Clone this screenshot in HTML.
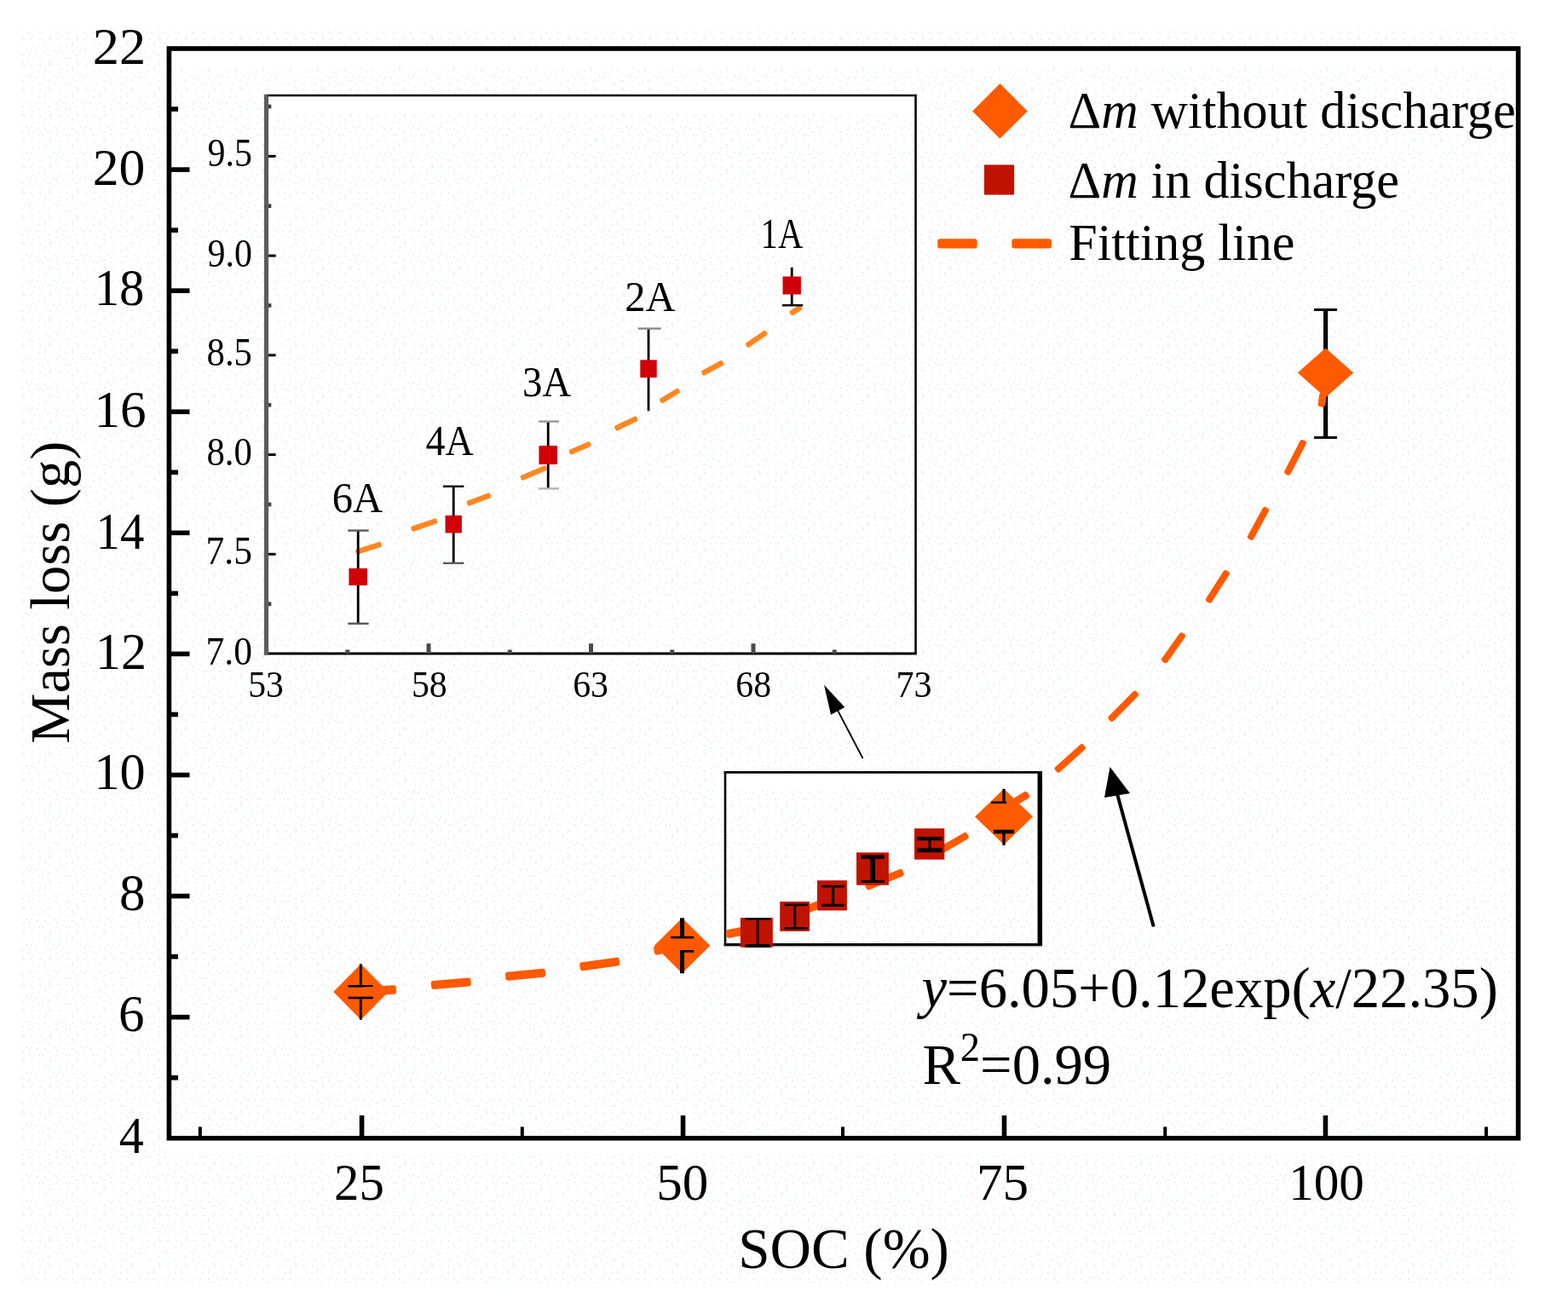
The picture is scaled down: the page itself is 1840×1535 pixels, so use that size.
<!DOCTYPE html>
<html lang="en"><head><meta charset="utf-8"><title>Mass loss vs SOC</title>
<style>html,body{margin:0;padding:0;background:#fff;}body{width:1840px;height:1535px;overflow:hidden;}svg{display:block;}text{font-family:"Liberation Serif","Times New Roman",Times,serif;fill:#000;white-space:pre;}</style>
</head><body>
<svg width="1840" height="1535" viewBox="0 0 1840 1535">
<defs><pattern id="dz" width="32" height="30" patternUnits="userSpaceOnUse"><rect x="2" y="1" width="2" height="2" fill="#f8eeee"/><rect x="8" y="5" width="2" height="2" fill="#e9fdfd"/><rect x="10" y="0" width="2" height="2" fill="#f8eeee"/><rect x="20" y="0" width="2" height="2" fill="#f8eeee"/><rect x="23" y="4" width="2" height="2" fill="#e9fdfd"/><rect x="26" y="4" width="2" height="2" fill="#f8eeee"/><rect x="1" y="7" width="2" height="2" fill="#f8eeee"/><rect x="5" y="10" width="2" height="2" fill="#e9fdfd"/><rect x="13" y="7" width="2" height="2" fill="#f8eeee"/><rect x="17" y="7" width="2" height="2" fill="#f8eeee"/><rect x="25" y="10" width="2" height="2" fill="#e9fdfd"/><rect x="26" y="13" width="2" height="2" fill="#f8eeee"/><rect x="4" y="15" width="2" height="2" fill="#f8eeee"/><rect x="6" y="20" width="2" height="2" fill="#e9fdfd"/><rect x="14" y="15" width="2" height="2" fill="#f8eeee"/><rect x="20" y="19" width="2" height="2" fill="#f8eeee"/><rect x="24" y="15" width="2" height="2" fill="#e9fdfd"/><rect x="27" y="15" width="2" height="2" fill="#f8eeee"/><rect x="4" y="28" width="2" height="2" fill="#f8eeee"/><rect x="6" y="24" width="2" height="2" fill="#e9fdfd"/><rect x="13" y="23" width="2" height="2" fill="#f8eeee"/><rect x="20" y="22" width="2" height="2" fill="#f8eeee"/><rect x="25" y="24" width="2" height="2" fill="#e9fdfd"/><rect x="30" y="28" width="2" height="2" fill="#f8eeee"/></pattern></defs>
<rect x="0" y="0" width="1840" height="1535" fill="#ffffff"/>
<rect x="24" y="35" width="1755" height="1473" fill="url(#dz)"/>
<g id="bands" fill="#ffffff"><rect x="198" y="57" width="1583" height="20"/><rect x="196" y="1336" width="1588" height="18.5"/><rect x="313" y="112" width="761" height="20"/><rect x="851" y="906" width="369" height="20"/></g>
<g id="main-axes" stroke="#000" fill="none">
<rect x="198.4" y="57" width="1583.2" height="1278.75" stroke-width="5.6"/>
<line x1="198.4" y1="1264.71" x2="209" y2="1264.71" stroke-width="5.6"/>
<line x1="198.4" y1="1193.67" x2="222.5" y2="1193.67" stroke-width="5.6"/>
<line x1="198.4" y1="1122.62" x2="209" y2="1122.62" stroke-width="5.6"/>
<line x1="198.4" y1="1051.58" x2="222.5" y2="1051.58" stroke-width="5.6"/>
<line x1="198.4" y1="980.54" x2="209" y2="980.54" stroke-width="5.6"/>
<line x1="198.4" y1="909.5" x2="222.5" y2="909.5" stroke-width="5.6"/>
<line x1="198.4" y1="838.46" x2="209" y2="838.46" stroke-width="5.6"/>
<line x1="198.4" y1="767.42" x2="222.5" y2="767.42" stroke-width="5.6"/>
<line x1="198.4" y1="696.38" x2="209" y2="696.38" stroke-width="5.6"/>
<line x1="198.4" y1="625.33" x2="222.5" y2="625.33" stroke-width="5.6"/>
<line x1="198.4" y1="554.29" x2="209" y2="554.29" stroke-width="5.6"/>
<line x1="198.4" y1="483.25" x2="222.5" y2="483.25" stroke-width="5.6"/>
<line x1="198.4" y1="412.21" x2="209" y2="412.21" stroke-width="5.6"/>
<line x1="198.4" y1="341.17" x2="222.5" y2="341.17" stroke-width="5.6"/>
<line x1="198.4" y1="270.12" x2="209" y2="270.12" stroke-width="5.6"/>
<line x1="198.4" y1="199.08" x2="222.5" y2="199.08" stroke-width="5.6"/>
<line x1="198.4" y1="128.04" x2="209" y2="128.04" stroke-width="5.6"/>
<line x1="234.8" y1="1335.75" x2="234.8" y2="1322.4" stroke-width="4"/>
<line x1="424.57" y1="1335.75" x2="424.57" y2="1309" stroke-width="5.6"/>
<line x1="612.8" y1="1335.75" x2="612.8" y2="1322.4" stroke-width="4"/>
<line x1="801.52" y1="1335.75" x2="801.52" y2="1309" stroke-width="5.6"/>
<line x1="989" y1="1335.75" x2="989" y2="1322.4" stroke-width="4"/>
<line x1="1178.48" y1="1335.75" x2="1178.48" y2="1309" stroke-width="5.6"/>
<line x1="1367.2" y1="1335.75" x2="1367.2" y2="1322.4" stroke-width="4"/>
<line x1="1555.43" y1="1335.75" x2="1555.43" y2="1309" stroke-width="5.6"/>
<line x1="1744" y1="1335.75" x2="1744" y2="1322.4" stroke-width="4"/>
</g>
<g id="zoombox" stroke="#000" fill="none">
<path d="M849.7 906.4H1223" stroke-width="2.9"/><path d="M851 905V1110" stroke-width="2.6"/>
<path d="M1220.3 905V1110.6" stroke-width="5.5"/><path d="M849.7 1108.5H1223" stroke-width="3"/>
<path d="M849.7 1110.6H1223" stroke="#b8b0b0" stroke-width="1.2"/>
</g>
<g id="main-diamonds" fill="none">
<polygon points="423.5,1131.2 455.8,1164 423.5,1196.8 391.2,1164" fill="#FF5A00"/>
<line x1="423.3" y1="1131.2" x2="423.3" y2="1157.3" stroke="#000" stroke-width="2.8"/>
<line x1="423.3" y1="1171" x2="423.3" y2="1196.8" stroke="#000" stroke-width="2.8"/>
<line x1="408.5" y1="1157.3" x2="437.8" y2="1157.3" stroke="#000" stroke-width="2.6"/>
<line x1="408.5" y1="1171" x2="437.8" y2="1171" stroke="#000" stroke-width="2.6"/>
<polygon points="800.5,1077.2 833.3,1109.7 800.5,1142.2 767.7,1109.7" fill="#FF5A00"/>
<line x1="800.5" y1="1077.3" x2="800.5" y2="1100.1" stroke="#000" stroke-width="5"/>
<line x1="800.5" y1="1116.4" x2="800.5" y2="1142.2" stroke="#000" stroke-width="5"/>
<line x1="787" y1="1100.1" x2="814" y2="1100.1" stroke="#000" stroke-width="2.6"/>
<polygon points="1178,925.7 1212,958.5 1178,991.3 1144,958.5" fill="#FF5A00"/>
<line x1="1178" y1="925.8" x2="1178" y2="941.7" stroke="#000" stroke-width="3.3"/>
<line x1="1178" y1="976" x2="1178" y2="992" stroke="#000" stroke-width="3.3"/>
<line x1="1166" y1="976" x2="1190" y2="976" stroke="#000" stroke-width="4.6"/>
<line x1="1555.6" y1="363.5" x2="1555.6" y2="513.5" stroke="#000" stroke-width="5.2"/>
<path d="M1542 363.5H1569M1542 513.5H1569" stroke="#000" stroke-width="3"/>
<polygon points="1555.5,408.4 1588.2,437.4 1555.5,466.4 1522.8,437.4" fill="#FF5A00"/>
</g>
<g id="main-fit">
<rect x="423.46" y="1157.35" width="41.59" height="10.6" rx="3" fill="#FF5A00" transform="rotate(-3.72 444.25 1162.65)"/>
<rect x="505.92" y="1149.25" width="46.76" height="10" rx="3" fill="#FF5A00" transform="rotate(-4.78 529.3 1154.25)"/>
<rect x="593.09" y="1138.7" width="47.03" height="10" rx="3" fill="#FF5A00" transform="rotate(-5.61 616.6 1143.7)"/>
<rect x="680.28" y="1126.4" width="46.94" height="10" rx="3" fill="#FF5A00" transform="rotate(-7.84 703.75 1131.4)"/>
<rect x="767.07" y="1106.3" width="47.36" height="10.4" rx="3" fill="#FF5A00" transform="rotate(-10.95 790.75 1111.5)"/>
<rect x="851.88" y="1088.25" width="33.44" height="10" rx="3" fill="#FF5A00" transform="rotate(-11.21 868.6 1093.25)"/>
<rect x="943.84" y="1057.25" width="32.31" height="9.5" rx="3" fill="#FF5A00" transform="rotate(-21.8 960 1062)"/>
<rect x="1014.26" y="1027.6" width="47.28" height="9" rx="3" fill="#FF5A00" transform="rotate(-22.12 1037.9 1032.1)"/>
<rect x="1095.04" y="986.25" width="43.51" height="8.6" rx="3" fill="#FF5A00" transform="rotate(-30.22 1116.8 990.55)"/>
<rect x="1169.03" y="937.7" width="40.75" height="9" rx="3" fill="#FF5A00" transform="rotate(-31.35 1189.4 942.2)"/>
<rect x="1233.48" y="885.85" width="44.55" height="8" rx="3" fill="#FF5A00" transform="rotate(-41.9 1255.75 889.85)"/>
<rect x="1295.21" y="824.8" width="46.08" height="8" rx="3" fill="#FF5A00" transform="rotate(-45.3 1318.25 828.8)"/>
<rect x="1356.47" y="756.3" width="41.05" height="8" rx="3" fill="#FF5A00" transform="rotate(-54.8 1377 760.3)"/>
<rect x="1407.17" y="684.4" width="43.36" height="8" rx="3" fill="#FF5A00" transform="rotate(-57.4 1428.85 688.4)"/>
<rect x="1455.27" y="610.4" width="42.36" height="8" rx="3" fill="#FF5A00" transform="rotate(-61.4 1476.45 614.4)"/>
<rect x="1497.44" y="532.9" width="45.11" height="8" rx="3" fill="#FF5A00" transform="rotate(-62.7 1520 536.9)"/>
<rect x="1543.29" y="464.95" width="16.62" height="8.6" rx="3" fill="#FF5A00" transform="rotate(-83.09 1551.6 469.25)"/>
<path d="M798 1116.4H814M1163 941.7H1181" stroke="#000" stroke-width="2.6" fill="none"/>
</g>
<g id="main-squares" fill="none">
<rect x="868.9" y="1077" width="37.9" height="34.7" fill="#C01200"/>
<line x1="889.1" y1="1078.3" x2="889.1" y2="1110" stroke="#000" stroke-width="2.8"/>
<line x1="874.3" y1="1078.3" x2="903.9" y2="1078.3" stroke="#000" stroke-width="2.6"/>
<line x1="874.3" y1="1110" x2="903.9" y2="1110" stroke="#000" stroke-width="4"/>
<rect x="915.2" y="1058.1" width="34.8" height="34.8" fill="#C01200"/>
<line x1="932.8" y1="1061.9" x2="932.8" y2="1089.3" stroke="#000" stroke-width="2.8"/>
<line x1="920.4" y1="1061.9" x2="947.8" y2="1061.9" stroke="#000" stroke-width="2.6"/>
<line x1="920.4" y1="1089.3" x2="947.8" y2="1089.3" stroke="#000" stroke-width="2.6"/>
<rect x="959" y="1033.2" width="34.9" height="35.3" fill="#C01200"/>
<line x1="977.6" y1="1040.2" x2="977.6" y2="1062.2" stroke="#000" stroke-width="3"/>
<line x1="964.2" y1="1040.2" x2="991.1" y2="1040.2" stroke="#000" stroke-width="2.6"/>
<line x1="964.2" y1="1062.2" x2="991.1" y2="1062.2" stroke="#000" stroke-width="3"/>
<rect x="1005" y="1000.4" width="37.9" height="38.3" fill="#C01200"/>
<line x1="1024.1" y1="1005.7" x2="1024.1" y2="1034.5" stroke="#000" stroke-width="5.6"/>
<line x1="1010.4" y1="1005.7" x2="1037.7" y2="1005.7" stroke="#000" stroke-width="4.6"/>
<line x1="1010.4" y1="1034.5" x2="1037.7" y2="1034.5" stroke="#000" stroke-width="3"/>
<rect x="1073" y="972.2" width="35.3" height="36.5" fill="#C01200"/>
<line x1="1090.9" y1="984.1" x2="1090.9" y2="997.8" stroke="#000" stroke-width="3"/>
<line x1="1076" y1="984.1" x2="1105.7" y2="984.1" stroke="#000" stroke-width="4.4"/>
<line x1="1076" y1="997.8" x2="1105.7" y2="997.8" stroke="#000" stroke-width="5"/>
</g>
<g id="arrows" fill="#000" stroke="#000">
<line x1="1012.5" y1="890" x2="978" y2="824" stroke-width="1.8"/>
<polygon points="967,803.75 975,838.75 991.25,830" stroke="none"/>
<line x1="1353.75" y1="1087.5" x2="1310" y2="928" stroke-width="4"/>
<polygon points="1302.5,900 1296,936 1326,931" stroke="none"/>
</g>
<g id="inset-fit">
<rect x="416.72" y="639.95" width="31.75" height="6.4" rx="2" fill="#FF8722" transform="rotate(-17.6 432.6 643.15)"/>
<rect x="481.87" y="612.85" width="31.87" height="6.4" rx="2" fill="#FF8722" transform="rotate(-19.2 497.8 616.05)"/>
<rect x="547.18" y="582.9" width="29.64" height="6.4" rx="2" fill="#FF8722" transform="rotate(-20.6 562 586.1)"/>
<rect x="609.94" y="551.75" width="32.71" height="6.4" rx="2" fill="#FF8722" transform="rotate(-23.1 626.3 554.95)"/>
<rect x="667.18" y="522.7" width="26.94" height="6.4" rx="2" fill="#FF8722" transform="rotate(-23 680.65 525.9)"/>
<rect x="720.37" y="493.7" width="28.76" height="6.4" rx="2" fill="#FF8722" transform="rotate(-25.6 734.75 496.9)"/>
<rect x="772.91" y="461.3" width="25.99" height="6.4" rx="2" fill="#FF8722" transform="rotate(-30.8 785.9 464.5)"/>
<rect x="822.01" y="428.65" width="28.17" height="6.4" rx="2" fill="#FF8722" transform="rotate(-28.6 836.1 431.85)"/>
<rect x="873.25" y="394.65" width="28.8" height="6.4" rx="2" fill="#FF8722" transform="rotate(-34.8 887.65 397.85)"/>
<rect x="926.22" y="361" width="15.45" height="6.4" rx="2" fill="#FF8722" transform="rotate(-31.9 933.95 364.2)"/>
</g>
<g id="inset-axes" stroke="#000" fill="none">
<path d="M312.5 112H1074.5V767.1" stroke-width="2.6"/>
<path d="M309.9 767.1H1075.8" stroke-width="3"/>
<line x1="312.5" y1="708.73" x2="318.3" y2="708.73" stroke-width="4.6" stroke="#3c3c3c"/>
<line x1="312.5" y1="650.35" x2="323.6" y2="650.35" stroke-width="3"/>
<line x1="312.5" y1="591.98" x2="318.3" y2="591.98" stroke-width="4.6" stroke="#3c3c3c"/>
<line x1="312.5" y1="533.6" x2="323.6" y2="533.6" stroke-width="3"/>
<line x1="312.5" y1="475.23" x2="318.3" y2="475.23" stroke-width="4.6" stroke="#3c3c3c"/>
<line x1="312.5" y1="416.85" x2="323.6" y2="416.85" stroke-width="3"/>
<line x1="312.5" y1="358.48" x2="318.3" y2="358.48" stroke-width="4.6" stroke="#3c3c3c"/>
<line x1="312.5" y1="300.1" x2="323.6" y2="300.1" stroke-width="3"/>
<line x1="312.5" y1="241.73" x2="318.3" y2="241.73" stroke-width="4.6" stroke="#3c3c3c"/>
<line x1="312.5" y1="183.35" x2="323.6" y2="183.35" stroke-width="3"/>
<line x1="312.5" y1="124.98" x2="318.3" y2="124.98" stroke-width="4.6" stroke="#3c3c3c"/>
<line x1="407.75" y1="767.1" x2="407.75" y2="762.5" stroke-width="5" stroke="#4a4a4a"/>
<line x1="503" y1="767.1" x2="503" y2="755.2" stroke-width="5" stroke="#4a4a4a"/>
<line x1="598.25" y1="767.1" x2="598.25" y2="762.5" stroke-width="5" stroke="#4a4a4a"/>
<line x1="693.5" y1="767.1" x2="693.5" y2="755.2" stroke-width="5" stroke="#4a4a4a"/>
<line x1="788.75" y1="767.1" x2="788.75" y2="762.5" stroke-width="5" stroke="#4a4a4a"/>
<line x1="884" y1="767.1" x2="884" y2="755.2" stroke-width="5" stroke="#4a4a4a"/>
<line x1="979.25" y1="767.1" x2="979.25" y2="762.5" stroke-width="5" stroke="#4a4a4a"/>
<path d="M312.5 110.7V768.6" stroke="#5c5c5c" stroke-width="5.2"/>
</g>
<g id="inset-data" fill="none">
<line x1="420.2" y1="622.6" x2="420.2" y2="731.8" stroke="#000" stroke-width="2.8"/>
<line x1="408.2" y1="622.6" x2="432.7" y2="622.6" stroke="#5a5a5a" stroke-width="2.4"/>
<line x1="408.2" y1="731.8" x2="432.7" y2="731.8" stroke="#5a5a5a" stroke-width="2.4"/>
<rect x="409.4" y="667" width="21.6" height="20" fill="#D10008"/>
<line x1="532.2" y1="570.8" x2="532.2" y2="660.9" stroke="#000" stroke-width="2.8"/>
<line x1="520" y1="570.8" x2="544.3" y2="570.8" stroke="#000" stroke-width="2.4"/>
<line x1="520" y1="660.9" x2="544.3" y2="660.9" stroke="#5a5a5a" stroke-width="2.4"/>
<rect x="522.5" y="604.9" width="19.4" height="20.6" fill="#D10008"/>
<line x1="643.2" y1="494.6" x2="643.2" y2="573.4" stroke="#000" stroke-width="2.8"/>
<line x1="631.8" y1="494.6" x2="656" y2="494.6" stroke="#9a9a9a" stroke-width="2.4"/>
<line x1="631.8" y1="573.4" x2="656" y2="573.4" stroke="#b4b4b4" stroke-width="2.4"/>
<rect x="632.4" y="523.1" width="21.6" height="21.8" fill="#D10008"/>
<line x1="761" y1="385.6" x2="761" y2="482.3" stroke="#000" stroke-width="2.8"/>
<line x1="748.8" y1="385.6" x2="775.6" y2="385.6" stroke="#8a8a8a" stroke-width="2.4"/>
<rect x="751.3" y="422.4" width="19.4" height="20.8" fill="#D10008"/>
<line x1="929.2" y1="313.8" x2="929.2" y2="358.3" stroke="#000" stroke-width="2.8"/>
<line x1="917.8" y1="358.3" x2="942.2" y2="358.3" stroke="#000" stroke-width="2.4"/>
<rect x="918.5" y="324.5" width="21.4" height="21" fill="#D10008"/>
</g>
<g id="legend">
<polygon points="1173.4,98 1205.7,130.4 1173.4,162.8 1141.1,130.4" fill="#FF5A00"/>
<rect x="1154.9" y="193.4" width="35.2" height="35.2" fill="#C01200"/>
<rect x="1100.2" y="280.2" width="46.4" height="11.2" rx="3" fill="#FF5A00"/>
<rect x="1187.3" y="280.2" width="46.6" height="11.2" rx="3" fill="#FF5A00"/>
</g>
<g id="texts">
<text id="y4" x="139.66" y="1353.05" font-size="61" textLength="29.05" lengthAdjust="spacingAndGlyphs">4</text>
<text id="y6" x="139" y="1210.47" font-size="61" textLength="30.5" lengthAdjust="spacingAndGlyphs">6</text>
<text id="y8" x="140" y="1067.88" font-size="61" textLength="30.5" lengthAdjust="spacingAndGlyphs">8</text>
<text id="y10" x="110.44" y="926.3" font-size="61" textLength="60.17" lengthAdjust="spacingAndGlyphs">10</text>
<text id="y12" x="112.09" y="785" font-size="61" textLength="59.92" lengthAdjust="spacingAndGlyphs">12</text>
<text id="y14" x="112.58" y="643.6" font-size="61" textLength="56.73" lengthAdjust="spacingAndGlyphs">14</text>
<text id="y16" x="110.49" y="500.6" font-size="61" textLength="61.18" lengthAdjust="spacingAndGlyphs">16</text>
<text id="y18" x="110.63" y="357.75" font-size="61" textLength="58.78" lengthAdjust="spacingAndGlyphs">18</text>
<text id="y20" x="108.68" y="216.5" font-size="61" textLength="61.6" lengthAdjust="spacingAndGlyphs">20</text>
<text id="y22" x="108.87" y="75" font-size="61" textLength="62.28" lengthAdjust="spacingAndGlyphs">22</text>
<text id="x25" x="392.11" y="1407.7" font-size="61" textLength="58.82" lengthAdjust="spacingAndGlyphs">25</text>
<text id="x50" x="770.25" y="1407.7" font-size="61" textLength="61" lengthAdjust="spacingAndGlyphs">50</text>
<text id="x75" x="1145.99" y="1407.7" font-size="61" textLength="61.08" lengthAdjust="spacingAndGlyphs">75</text>
<text id="x100" x="1512.15" y="1407.7" font-size="61" textLength="88.8" lengthAdjust="spacingAndGlyphs">100</text>
<text id="xlabel" x="866.24" y="1488" font-size="67" textLength="247.55" lengthAdjust="spacingAndGlyphs">SOC (%)</text>
<text id="ylabel" transform="translate(80.8,872.72) rotate(-90)" font-size="66" textLength="355.07" lengthAdjust="spacingAndGlyphs">Mass loss (g)</text>
<text id="leg1" x="1253.5" y="149.7" font-size="61.5" textLength="525.1" lengthAdjust="spacingAndGlyphs">Δ<tspan font-style="italic">m</tspan> without discharge</text>
<text id="leg2" x="1253.48" y="231.5" font-size="61.5" textLength="388.45" lengthAdjust="spacingAndGlyphs">Δ<tspan font-style="italic">m</tspan> in discharge</text>
<text id="leg3" x="1254.29" y="305.2" font-size="61.5" textLength="265.05" lengthAdjust="spacingAndGlyphs">Fitting line</text>
<text id="ann1" x="1081.53" y="1182.1" font-size="68.5" textLength="676.31" lengthAdjust="spacingAndGlyphs"><tspan font-style="italic">y</tspan>=6.05+0.12exp(<tspan font-style="italic">x</tspan>/22.35)</text>
<text id="ann2" x="1082.43" y="1271.5" font-size="68" textLength="221.75" lengthAdjust="spacingAndGlyphs">R<tspan font-size="47.5" dy="-26.5">2</tspan><tspan dy="26.5">=0.99</tspan></text>
<text id="iy70" x="241.56" y="779.7" font-size="46" textLength="54.39" lengthAdjust="spacingAndGlyphs">7.0</text>
<text id="iy75" x="241.54" y="662.45" font-size="46" textLength="54.43" lengthAdjust="spacingAndGlyphs">7.5</text>
<text id="iy80" x="242.51" y="546.2" font-size="46" textLength="53.42" lengthAdjust="spacingAndGlyphs">8.0</text>
<text id="iy85" x="242.55" y="428.95" font-size="46" textLength="53.36" lengthAdjust="spacingAndGlyphs">8.5</text>
<text id="iy90" x="243.55" y="312.7" font-size="46" textLength="52.35" lengthAdjust="spacingAndGlyphs">9.0</text>
<text id="iy95" x="243.55" y="195.45" font-size="46" textLength="52.35" lengthAdjust="spacingAndGlyphs">9.5</text>
<text id="ix53" x="291.22" y="817.5" font-size="45" textLength="41.67" lengthAdjust="spacingAndGlyphs">53</text>
<text id="ix58" x="482.9" y="817.5" font-size="45" textLength="41.78" lengthAdjust="spacingAndGlyphs">58</text>
<text id="ix63" x="672.14" y="817.5" font-size="45" textLength="41.95" lengthAdjust="spacingAndGlyphs">63</text>
<text id="ix68" x="863.33" y="817.5" font-size="45" textLength="41.7" lengthAdjust="spacingAndGlyphs">68</text>
<text id="ix73" x="1051.55" y="817.5" font-size="45" textLength="41.96" lengthAdjust="spacingAndGlyphs">73</text>
<text id="p6A" x="389.73" y="600.7" font-size="51" textLength="59.4" lengthAdjust="spacingAndGlyphs">6A</text>
<text id="p4A" x="499.41" y="534.3" font-size="51" textLength="56.26" lengthAdjust="spacingAndGlyphs">4A</text>
<text id="p3A" x="613.05" y="465.1" font-size="51" textLength="57.17" lengthAdjust="spacingAndGlyphs">3A</text>
<text id="p2A" x="733.35" y="364.8" font-size="51" textLength="59.31" lengthAdjust="spacingAndGlyphs">2A</text>
<text id="p1A" x="892.53" y="291.2" font-size="51" textLength="49.82" lengthAdjust="spacingAndGlyphs">1A</text>
</g>
</svg>
</body></html>
